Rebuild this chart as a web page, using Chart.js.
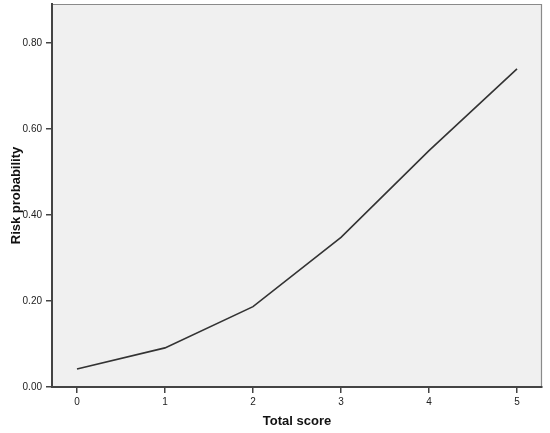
<!DOCTYPE html>
<html>
<head>
<meta charset="utf-8">
<script src="https://cdn.jsdelivr.net/npm/chart.js@4"></script>
<style>
  html, body { margin: 0; padding: 0; background: #fff; }
  canvas { display: block; }
</style>
</head>
<body>
<canvas id="myChart" width="550" height="433"></canvas>
<script>
// values
let scores = [0, 1, 2, 3, 4, 5];
let riskValues = [0.042, 0.091, 0.187, 0.348, 0.55, 0.74];
let yTickValues = [0, 0.2, 0.4, 0.6, 0.8];

// grey plot area with a light frame on top / right
let plotBackground = {
    id: "plotBackground",
    beforeDraw(chart) {
        let ctx = chart.ctx;
        let a = chart.chartArea;
        ctx.save();
        ctx.fillStyle = "#f0f0f0";
        ctx.fillRect(a.left, a.top, a.right - a.left, a.bottom - a.top);
        ctx.strokeStyle = "#8a8a8a";
        ctx.lineWidth = 1.2;
        ctx.beginPath();
        ctx.moveTo(a.left, a.top + 0.5);
        ctx.lineTo(a.right - 0.5, a.top + 0.5);
        ctx.lineTo(a.right - 0.5, a.bottom);
        ctx.stroke();
        ctx.restore();
    }
};

let myChart = document.getElementById("myChart").getContext("2d");
let riskChart = new Chart(myChart, {
    type: "line",
    data: {
        datasets: [{
            label: "Risk probability",
            data: scores.map((s, i) => ({ x: s, y: riskValues[i] })),
            borderColor: "#333333",
            borderWidth: 1.6,
            pointRadius: 0,
            tension: 0,
            fill: false
        }]
    },
    options: {
        responsive: false,
        animation: false,
        layout: { padding: { top: 4, right: 8, left: 0, bottom: 0 } },
        plugins: {
            legend: { display: false },
            tooltip: { enabled: false }
        },
        scales: {
            x: {
                type: "linear",
                min: -0.284,
                max: 5.284,
                afterBuildTicks: axis => { axis.ticks = scores.map(v => ({ value: v })); },
                afterFit: axis => { axis.height = 46; axis.paddingLeft = 0; axis.paddingRight = 0; },
                grid: { drawOnChartArea: false, drawTicks: true, tickLength: 6, color: "#444", lineWidth: 1.5 },
                border: { color: "#444", width: 2 },
                ticks: {
                    color: "#222",
                    font: { family: "Arial, 'Liberation Sans'", size: 10 },
                    padding: 3,
                    maxRotation: 0,
                    callback: v => String(v)
                },
                title: {
                    display: true,
                    text: "Total score",
                    color: "#111",
                    font: { family: "Arial, 'Liberation Sans'", size: 13, weight: "bold" },
                    padding: { top: 0, bottom: 3.6 }
                }
            },
            y: {
                min: 0,
                max: 0.891,
                afterBuildTicks: axis => { axis.ticks = yTickValues.map(v => ({ value: v })); },
                afterFit: axis => { axis.width = 52; axis.paddingTop = 0; axis.paddingBottom = 0; },
                grid: { drawOnChartArea: false, drawTicks: true, tickLength: 6, color: "#444", lineWidth: 1.5 },
                border: { color: "#444", width: 2 },
                ticks: {
                    color: "#222",
                    font: { family: "Arial, 'Liberation Sans'", size: 10 },
                    padding: 4,
                    callback: v => v.toFixed(2)
                },
                title: {
                    display: true,
                    text: "Risk probability",
                    color: "#111",
                    font: { family: "Arial, 'Liberation Sans'", size: 13, weight: "bold" },
                    padding: { top: 9, bottom: 0 }
                }
            }
        }
    },
    plugins: [plotBackground]
});
</script>
</body>
</html>
